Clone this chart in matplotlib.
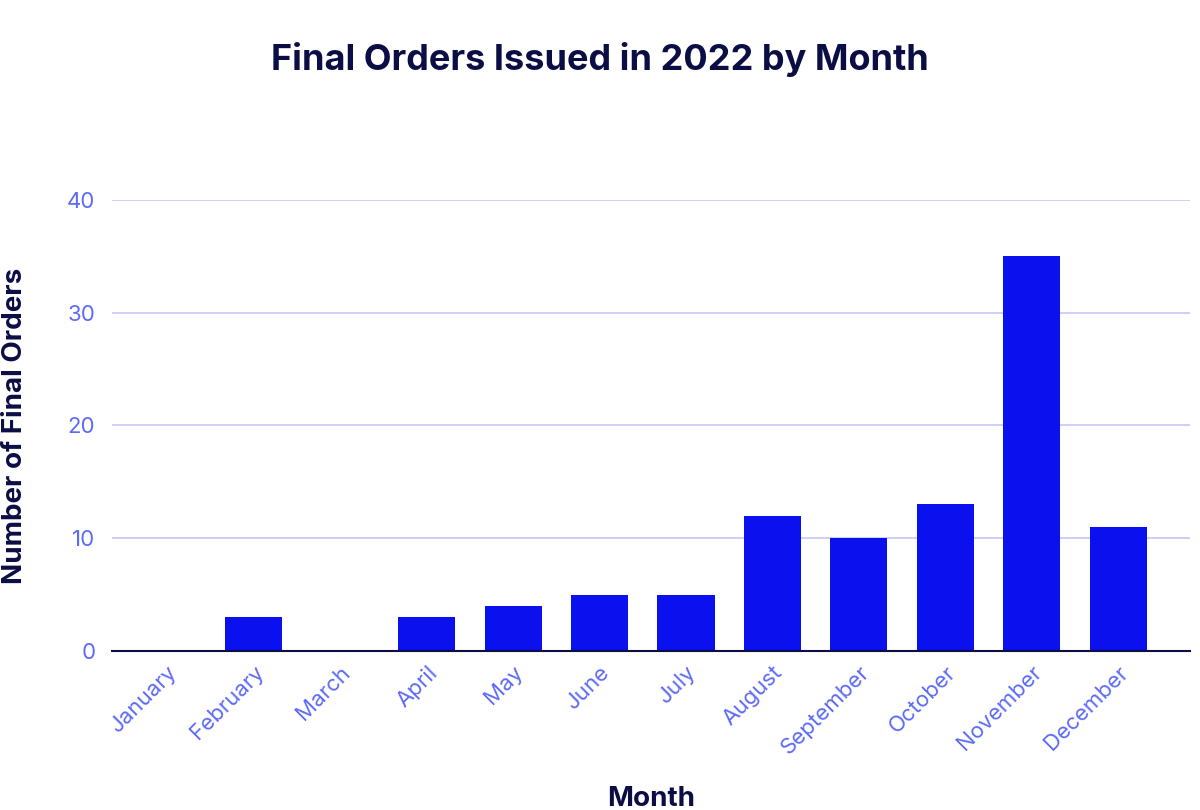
import matplotlib.pyplot as plt

months = ['January', 'February', 'March', 'April', 'May', 'June', 'July',
          'August', 'September', 'October', 'November', 'December']
orders = [0, 3, 0, 3, 4, 5, 5, 12, 10, 13, 35, 11]
yticks = [0, 10, 20, 30, 40]

navy = '#0b0d45'
blue = '#0a10ee'
light = '#5d6af7'

plt.rcParams['font.family'] = ['Inter', 'DejaVu Sans']

fig = plt.figure(figsize=(12, 8.1), dpi=100)
ax = fig.add_axes([0.0933, 0.1963, 0.8984, 0.5568])

ax.bar(range(len(months)), orders, width=0.66, color=blue, zorder=3)
ax.set_xlim(-0.64, 11.83)
ax.set_ylim(0, 40)
ax.set_yticks(yticks)
ax.set_xticks(range(len(months)))
ax.set_xticklabels(months, rotation=45, ha='right', rotation_mode='anchor')
ax.tick_params(axis='both', length=0, labelsize=16, colors=light, pad=8)
ax.tick_params(axis='y', pad=12)
ax.grid(axis='y', color='#c3c8f7', linewidth=1.2, zorder=0)
ax.set_axisbelow(True)
for s in ['top', 'right', 'left']:
    ax.spines[s].set_visible(False)
ax.spines['bottom'].set_color(navy)
ax.spines['bottom'].set_linewidth(1.5)
ax.spines['bottom'].set_zorder(4)

ax.set_ylabel('Number of Final Orders', fontsize=20, fontweight='bold', color=navy, labelpad=28)
ax.set_xlabel('Month', fontsize=20, fontweight='bold', color=navy, labelpad=20)
fig.text(0.5, 0.927, 'Final Orders Issued in 2022 by Month', ha='center', va='center',
         fontsize=26, fontweight='bold', color=navy)

fig.savefig('out.png', dpi=100)
